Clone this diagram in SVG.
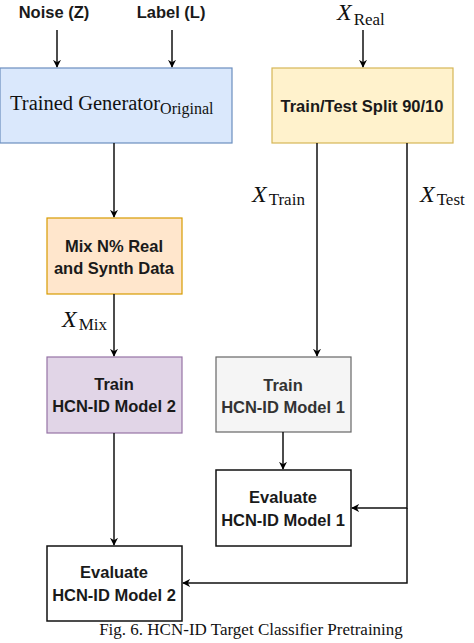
<svg xmlns="http://www.w3.org/2000/svg" width="474" height="643" viewBox="0 0 474 643">
<defs>
<marker id="ah" viewBox="0 0 10 10" refX="9" refY="5" markerWidth="8" markerHeight="8" markerUnits="userSpaceOnUse" orient="auto">
<path d="M0,0 L10,5 L0,10 L3,5 Z" fill="#000"/>
</marker>
<style>
.lbl{font-family:"Liberation Sans",Arial,sans-serif;font-weight:bold;font-size:16.5px;fill:#1a1a1a;text-anchor:middle}
.gray{fill:#333}
.math{font-family:"Liberation Serif","Times New Roman",serif;fill:#111}
.mi{font-style:italic;font-size:24px}
.sub{font-size:17px}
.conn line,.conn polyline{stroke:#111;stroke-width:1.5;fill:none}
.arr{marker-end:url(#ah)}
</style>
</defs>
<rect width="474" height="643" fill="#fff"/>

<g id="noise-label"><text class="lbl" x="54" y="18">Noise (Z)</text></g>
<g id="label-label"><text class="lbl" x="171" y="18">Label (L)</text></g>
<g id="xreal-label"><text class="math" x="337" y="20"><tspan class="mi">X</tspan><tspan class="sub" dx="2" dy="5">Real</tspan></text></g>

<g id="generator">
<rect x="0" y="68" width="232" height="75" fill="#dae8fc" stroke="#6c8ebf" stroke-width="1.2"/>
<text class="math" x="10" y="110" font-size="20.5">Trained Generator<tspan font-size="16" dy="4">Original</tspan></text>
</g>

<g id="split">
<rect x="272" y="68" width="181" height="75" fill="#fff2cc" stroke="#d6b656" stroke-width="1.2"/>
<text class="lbl" x="362" y="112">Train/Test Split 90/10</text>
</g>

<g id="mix">
<rect x="47" y="218" width="135" height="76" fill="#ffe6cc" stroke="#d79b00" stroke-width="1.2"/>
<text class="lbl" x="114" y="252">Mix N% Real</text>
<text class="lbl" x="114" y="274">and Synth Data</text>
</g>

<g id="train2">
<rect x="47" y="357" width="135" height="76" fill="#e1d5e7" stroke="#9673a6" stroke-width="1.2"/>
<text class="lbl" x="114" y="390">Train</text>
<text class="lbl" x="114" y="412">HCN-ID Model 2</text>
</g>

<g id="train1">
<rect x="216" y="357" width="135" height="75" fill="#f5f5f5" stroke="#666" stroke-width="1.2"/>
<text class="lbl gray" x="283" y="391">Train</text>
<text class="lbl gray" x="283" y="413">HCN-ID Model 1</text>
</g>

<g id="eval1">
<rect x="216" y="470" width="135" height="76" fill="#fff" stroke="#111" stroke-width="1.5"/>
<text class="lbl" x="283" y="503">Evaluate</text>
<text class="lbl" x="283" y="526">HCN-ID Model 1</text>
</g>

<g id="eval2">
<rect x="47" y="546" width="135" height="75" fill="#fff" stroke="#111" stroke-width="1.5"/>
<text class="lbl" x="114" y="578">Evaluate</text>
<text class="lbl" x="114" y="601">HCN-ID Model 2</text>
</g>

<g id="connectors" class="conn">
<line class="arr" x1="57" y1="30" x2="57" y2="67"/>
<line class="arr" x1="172" y1="30" x2="172" y2="67"/>
<line class="arr" x1="363" y1="30" x2="363" y2="67"/>
<line class="arr" x1="114" y1="143" x2="114" y2="217"/>
<line class="arr" x1="114" y1="294" x2="114" y2="356"/>
<line class="arr" x1="317" y1="143" x2="317" y2="356"/>
<line class="arr" x1="283" y1="432" x2="283" y2="469"/>
<line class="arr" x1="114" y1="433" x2="114" y2="545"/>
<polyline class="arr" points="407,143 407,508 352,508"/>
<polyline class="arr" points="407,508 407,583 183,583"/>
</g>

<g id="edge-labels">
<text class="math" x="252" y="202"><tspan class="mi">X</tspan><tspan class="sub" dx="2" dy="3">Train</tspan></text>
<text class="math" x="420" y="202"><tspan class="mi">X</tspan><tspan class="sub" dx="2" dy="3">Test</tspan></text>
<text class="math" x="62" y="327"><tspan class="mi">X</tspan><tspan class="sub" dx="2" dy="3">Mix</tspan></text>
</g>

<g id="caption"><text class="math" x="251" y="635" font-size="17" text-anchor="middle">Fig. 6. HCN-ID Target Classifier Pretraining</text></g>
</svg>
